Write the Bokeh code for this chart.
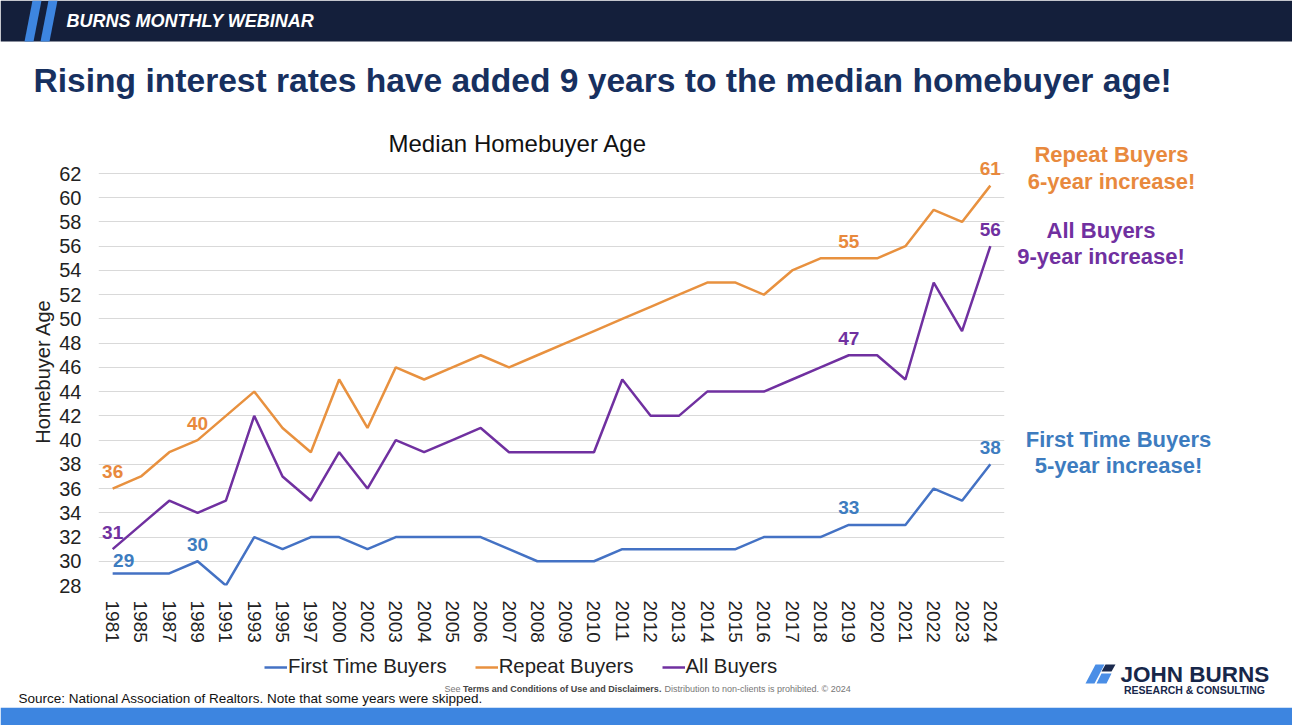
from bokeh.plotting import figure
from bokeh.models import (FactorRange, Range1d, FixedTicker, Legend, LegendItem,
                          LabelSet, Label, ColumnDataSource)
from bokeh.layouts import column, row
from bokeh.embed import file_html
from bokeh.resources import INLINE
from bokeh.core.properties import value

FONT = "Liberation Sans"

# ---------------- data ----------------
years = ["1981", "1985", "1987", "1989", "1991", "1993", "1995", "1997", "2000",
         "2002", "2003", "2004", "2005", "2006", "2007", "2008", "2009", "2010",
         "2011", "2012", "2013", "2014", "2015", "2016", "2017", "2018", "2019",
         "2020", "2021", "2022", "2023", "2024"]
first_time = [29, 29, 29, 30, 28, 32, 31, 32, 32, 31, 32, 32, 32, 32, 31, 30,
              30, 30, 31, 31, 31, 31, 31, 32, 32, 32, 33, 33, 33, 36, 35, 38]
repeat = [36, 37, 39, 40, 42, 44, 41, 39, 45, 41, 46, 45, 46, 47, 46, 47,
          48, 49, 50, 51, 52, 53, 53, 52, 54, 55, 55, 55, 56, 59, 58, 61]
all_buyers = [31, 33, 35, 34, 35, 42, 37, 35, 39, 36, 40, 39, 40, 41, 39, 39,
              39, 39, 45, 42, 42, 44, 44, 44, 45, 46, 47, 47, 45, 53, 49, 56]
y_ticks = [28, 30, 32, 34, 36, 38, 40, 42, 44, 46, 48, 50, 52, 54, 56, 58, 60, 62]
Y_MIN, Y_TOP_TICK = 28, 62

series_names = ["First Time Buyers", "Repeat Buyers", "All Buyers"]
first_label_years = ["1981", "1989", "2019", "2024"]
repeat_label_years = ["1981", "1989", "2019", "2024"]
all_label_years = ["1981", "2019", "2024"]

header_text = "BURNS MONTHLY WEBINAR"
main_title = "Rising interest rates have added 9 years to the median homebuyer age!"
chart_title = "Median Homebuyer Age"
y_label = "Homebuyer Age"
callout_repeat = ["Repeat Buyers", "6-year increase!"]
callout_all = ["All Buyers", "9-year increase!"]
callout_first = ["First Time Buyers", "5-year increase!"]
source_text = "Source: National Association of Realtors. Note that some years were skipped."
disc_a = "See"
disc_b = "Terms and Conditions of Use and Disclaimers."
disc_c = "Distribution to non-clients is prohibited. \u00a9 2024"
logo_main = "JOHN BURNS"
logo_sub = "RESEARCH & CONSULTING"

# ---------------- colours ----------------
NAVY = "#141F3B"
TITLE_NAVY = "#17305F"
BRIGHT_BLUE = "#3D85E0"
C_FIRST = "#4472C4"
C_FIRST_TXT = "#3D7CBF"
C_REPEAT = "#E8913F"
C_REPEAT_TXT = "#E8893D"
C_ALL = "#7030A0"
LOGO_NAVY = "#17274A"

# ---------------- page geometry (pixels) ----------------
W, H = 1292, 725
HEAD_BOT = 123          # header strip
CHART_TOP = 157         # top of chart canvas (= top of plot frame)
GRID_TOP, FX0, FX1, FY_BOT = 173, 98, 1004, 585
CHART_BOT = 646         # bottom of chart canvas (below x labels)
MID_BOT = 707           # top of bottom blue band
SPLIT = 1012
PX_PER_UNIT = (FY_BOT - GRID_TOP) / (Y_TOP_TICK - Y_MIN)
Y_MAX = Y_TOP_TICK + (GRID_TOP - CHART_TOP) / PX_PER_UNIT


def blank(w, top, bottom, x0, x1):
    f = figure(width=w, height=bottom - top, x_range=Range1d(x0, x1),
               y_range=Range1d(-bottom, -top), output_backend="svg",
               toolbar_location=None, min_border=0,
               x_axis_type=None, y_axis_type=None)
    f.outline_line_color = None
    f.background_fill_color = "white"
    f.border_fill_color = "white"
    f.xgrid.grid_line_color = None
    f.ygrid.grid_line_color = None
    return f


def lab(f, x, y_mid, s, size, color, style="normal", align="left"):
    f.add_layout(Label(x=x, y=-y_mid, text=s, text_align=align, text_baseline="middle",
                       text_font=FONT, text_font_size=size, text_font_style=style,
                       text_color=color))


def neg(v):
    return [-a for a in v]


# ---------------- header ----------------
head = blank(W, 0, HEAD_BOT, 0, W)
head.quad(left=[0], right=[W], top=[0], bottom=[-41], fill_color=NAVY, line_color=None)
head.patches(xs=[[24, 33, 41, 32], [40, 49, 57, 48]],
             ys=[neg([41, 41, 0, 0]), neg([41, 41, 0, 0])],
             fill_color=BRIGHT_BLUE, line_color=None)
lab(head, 66, 20, header_text, "18px", "white", style="bold italic")
lab(head, 33, 80, main_title, "33.6px", TITLE_NAVY, style="bold")

# ---------------- chart title strip ----------------
tfig = blank(SPLIT, HEAD_BOT, CHART_TOP, 0, SPLIT)
lab(tfig, 388, 142.5, chart_title, "24px", "#111111")

# ---------------- chart ----------------
p = figure(x_range=FactorRange(factors=years), y_range=Range1d(Y_MIN, Y_MAX),
           width=SPLIT, height=CHART_BOT - CHART_TOP, output_backend="svg",
           toolbar_location=None,
           min_border_left=FX0, min_border_right=SPLIT - FX1,
           min_border_top=0, min_border_bottom=CHART_BOT - FY_BOT)
p.outline_line_color = None
p.background_fill_color = "white"
p.border_fill_color = "white"

src = ColumnDataSource(dict(year=years, first=first_time, repeat=repeat, allb=all_buyers))
p.line("year", "first", source=src, line_color=C_FIRST, line_width=2.5)
p.line("year", "repeat", source=src, line_color=C_REPEAT, line_width=2.5)
p.line("year", "allb", source=src, line_color=C_ALL, line_width=2.5)

p.xgrid.visible = False
p.ygrid.ticker = FixedTicker(ticks=y_ticks)
p.ygrid.grid_line_color = "#D9D9D9"
p.ygrid.grid_line_width = 1

p.yaxis.ticker = FixedTicker(ticks=y_ticks)
for ax in (p.xaxis, p.yaxis):
    ax.axis_line_color = None
    ax.major_tick_line_color = None
    ax.minor_tick_line_color = None
    ax.major_label_text_font = FONT
    ax.major_label_text_color = "#222222"
p.xaxis.major_label_orientation = "vertical"
p.xaxis.major_label_text_font_size = "19px"
p.xaxis.major_label_standoff = 9
p.yaxis.major_label_text_font_size = "20px"
p.yaxis.major_label_standoff = 11
p.yaxis.axis_label = y_label
p.yaxis.axis_label_text_font = FONT
p.yaxis.axis_label_text_font_size = "20px"
p.yaxis.axis_label_text_font_style = "normal"
p.yaxis.axis_label_text_color = "#222222"
p.yaxis.axis_label_standoff = 2


def add_labels(label_years, vals, color, xo=None, yo=None):
    idx = [years.index(y) for y in label_years]
    n = len(idx)
    xo = xo if xo is not None else [0] * n
    yo = yo if yo is not None else [10.5] * n
    s = ColumnDataSource(dict(x=label_years, y=[vals[i] for i in idx],
                              t=[str(vals[i]) for i in idx], xo=xo, yo=yo))
    p.add_layout(LabelSet(x="x", y="y", text="t", source=s, x_offset="xo",
                          y_offset="yo", text_align="center",
                          text_baseline="alphabetic", text_font=value(FONT),
                          text_font_style="bold", text_font_size="19px",
                          text_color=color))


add_labels(first_label_years, first_time, C_FIRST_TXT, xo=[11, 0, 0, 0], yo=[6, 10.5, 10.5, 10.5])
add_labels(repeat_label_years, repeat, C_REPEAT_TXT)
add_labels(all_label_years, all_buyers, C_ALL)

# ---------------- legend + footnotes strip (same series styles) ----------------
lfig = blank(SPLIT, CHART_BOT, MID_BOT, 0, SPLIT)
nan = float("nan")
lsrc = ColumnDataSource(dict(x=[nan], y=[nan]))
g_first = lfig.line("x", "y", source=lsrc, line_color=C_FIRST, line_width=2.5)
g_repeat = lfig.line("x", "y", source=lsrc, line_color=C_REPEAT, line_width=2.5)
g_all = lfig.line("x", "y", source=lsrc, line_color=C_ALL, line_width=2.5)
legend = Legend(items=[LegendItem(label=series_names[0], renderers=[g_first]),
                       LegendItem(label=series_names[1], renderers=[g_repeat]),
                       LegendItem(label=series_names[2], renderers=[g_all])],
                orientation="horizontal", location=(264, 29),
                label_text_font=FONT, label_text_font_size="20.4px",
                label_text_color="#222222", glyph_width=23, glyph_height=20,
                label_standoff=1, spacing=28, padding=6, margin=0,
                border_line_color=None, background_fill_alpha=0)
lfig.add_layout(legend)
lab(lfig, 444, 688, disc_a, "9px", "#777777")
lab(lfig, 462.5, 688, disc_b, "9px", "#444444", "bold")
lab(lfig, 664, 688, disc_c, "9px", "#777777")
lab(lfig, 18, 698, source_text, "13.5px", "#111111")

# ---------------- right-hand callouts + logo ----------------
side = blank(W - SPLIT, HEAD_BOT, MID_BOT, SPLIT, W)
lab(side, 1111, 153.5, callout_repeat[0], "22px", C_REPEAT_TXT, "bold", "center")
lab(side, 1111, 180.5, callout_repeat[1], "22px", C_REPEAT_TXT, "bold", "center")
lab(side, 1100.5, 229.5, callout_all[0], "22px", C_ALL, "bold", "center")
lab(side, 1100.5, 256, callout_all[1], "22px", C_ALL, "bold", "center")
lab(side, 1118, 439, callout_first[0], "22px", C_FIRST_TXT, "bold", "center")
lab(side, 1118, 465, callout_first[1], "22px", C_FIRST_TXT, "bold", "center")
side.patches(xs=[[1085, 1094, 1104, 1095], [1096, 1106, 1111, 1101]],
             ys=[neg([683, 683, 664, 664]), neg([683, 683, 673, 673])],
             fill_color="#4A8EE6", line_color=None)
side.patches(xs=[[1101, 1111, 1115, 1105]], ys=[neg([671, 671, 664, 664])],
             fill_color="#1B2A4E", line_color=None)
lab(side, 1120, 673.5, logo_main, "22.5px", LOGO_NAVY, "bold")
lab(side, 1194, 689, logo_sub, "10.5px", LOGO_NAVY, "bold", "center")

# ---------------- bottom band ----------------
foot = blank(W, MID_BOT, H, 0, W)
foot.quad(left=[0], right=[W], top=[-MID_BOT], bottom=[-H], fill_color=BRIGHT_BLUE, line_color=None)

left_col = column(row(tfig), p, row(lfig))
layout = column(head, row(left_col, column(side)), foot)
open("out.html", "w").write(file_html(layout, INLINE))
